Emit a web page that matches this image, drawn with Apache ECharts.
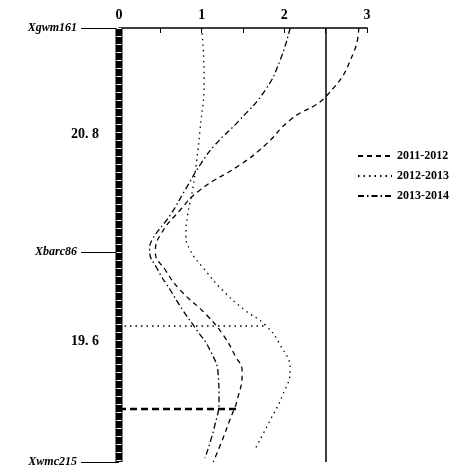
<!DOCTYPE html><html><head><meta charset="utf-8">
<script src="https://cdn.jsdelivr.net/npm/echarts@6/dist/echarts.min.js"></script>
<style>html,body{margin:0;background:#fff}#c{width:474px;height:474px}</style></head><body><div id="c"></div>
<script>
const seriesNames=['2011-2012','2012-2013','2013-2014'];
const pos2011=[0,22,67,92,117,137,162,182,207,224,242,262,287,307,327,344,372,392,412,434];
const lod2011=[2.90,2.85,2.52,2.07,1.77,1.46,0.98,0.74,0.50,0.44,0.56,0.74,1.06,1.26,1.40,1.49,1.43,1.34,1.25,1.14];
const pos2012=[0,52,102,132,162,187,207,222,242,262,282,297,317,342,367,392,422];
const lod2012=[1.00,1.03,0.98,0.94,0.89,0.83,0.81,0.86,1.04,1.25,1.52,1.77,1.95,2.07,1.98,1.83,1.64];
const pos2013=[0,32,62,92,117,137,162,187,212,222,242,262,282,302,322,347,372,397,430];
const lod2013=[2.07,1.95,1.77,1.46,1.16,0.98,0.80,0.62,0.40,0.37,0.47,0.62,0.77,0.94,1.10,1.20,1.21,1.16,1.04];
const markerPos=[0,106,224,313,434];
const markerLabels=['Xgwm161','20. 8','Xbarc86','19. 6','Xwmc215'];
const markerIsLocus=[true,false,true,false,true];
const threshold=2.5;
const peak2012=[298,1.77];
const peak2011=[381,1.43];
const xTicks=[0,1,2,3];
const pair=(p,l)=>p.map((v,i)=>[l[i],v]);
const chart=echarts.init(document.getElementById('c'));
const serif='Liberation Serif';
chart.setOption({
 animation:false,
 grid:{left:119,right:107,top:28,bottom:12},
 xAxis:{type:'value',position:'top',min:0,max:3,interval:1,
   axisLine:{show:true,lineStyle:{color:'#000',width:1.5}},
   axisTick:{show:true,inside:true,length:5,lineStyle:{color:'#000'}},
   minorTick:{show:true,splitNumber:2,length:5,lineStyle:{color:'#000'}},
   splitLine:{show:false},
   axisLabel:{color:'#000',fontFamily:serif,fontWeight:'bold',fontSize:14,margin:6,
     formatter:v=>xTicks.includes(v)?String(v):''}},
 yAxis:{type:'value',inverse:true,min:0,max:434,
   axisLine:{show:false},splitLine:{show:false},
   axisTick:{show:true,customValues:markerPos.filter((v,i)=>markerIsLocus[i]),length:38,lineStyle:{color:'#000',width:1}},
   axisLabel:{customValues:markerPos,margin:42,color:'#000',
     formatter:(v)=>{const i=markerPos.indexOf(v);return markerIsLocus[i]?'{m|'+markerLabels[i]+'}':'{n|'+markerLabels[i]+'}';},
     rich:{m:{fontFamily:serif,fontStyle:'italic',fontWeight:'bold',fontSize:12,color:'#000'},
           n:{fontFamily:serif,fontWeight:'bold',fontSize:14,color:'#000',padding:[0,-22,0,0]}}}},
 legend:{orient:'vertical',left:352,top:145,itemGap:8,itemWidth:34,itemHeight:10,
   itemStyle:{opacity:0},
   data:seriesNames,textStyle:{fontFamily:serif,fontWeight:'bold',fontSize:12,color:'#000'}},
 series:[
  {type:'line',silent:true,symbol:'none',data:[[0,0],[0,434]],lineStyle:{color:'#000',width:7},z:5},
  {type:'line',silent:true,symbol:'none',data:[[0,0],[0,434]],lineStyle:{color:'#fff',width:5,type:[1,7]},z:6},
  {name:'2011-2012',type:'line',smooth:true,symbol:'none',data:pair(pos2011,lod2011),
   lineStyle:{color:'#000',width:1.3,type:[5,4]},itemStyle:{color:'#000'},
   markLine:{silent:true,symbol:'none',label:{show:false},lineStyle:{color:'#000',width:1.5,type:'solid'},
     data:[{xAxis:threshold}]}},
  {name:'2012-2013',type:'line',smooth:true,symbol:'none',data:pair(pos2012,lod2012),
   lineStyle:{color:'#000',width:1.3,type:[1.5,4]},itemStyle:{color:'#000'}},
  {name:'2013-2014',type:'line',smooth:true,symbol:'none',data:pair(pos2013,lod2013),
   lineStyle:{color:'#000',width:1.3,type:[6,3,1.5,3]},itemStyle:{color:'#000'}},
  {type:'line',silent:true,symbol:'none',data:[[0,peak2012[0]],[peak2012[1],peak2012[0]]],lineStyle:{color:'#000',width:1.3,type:[1.5,4]},z:4},
  {type:'line',silent:true,symbol:'none',data:[[0,peak2011[0]],[peak2011[1],peak2011[0]]],lineStyle:{color:'#000',width:2.5,type:[7,4]},z:4}
 ]
});
</script></body></html>
